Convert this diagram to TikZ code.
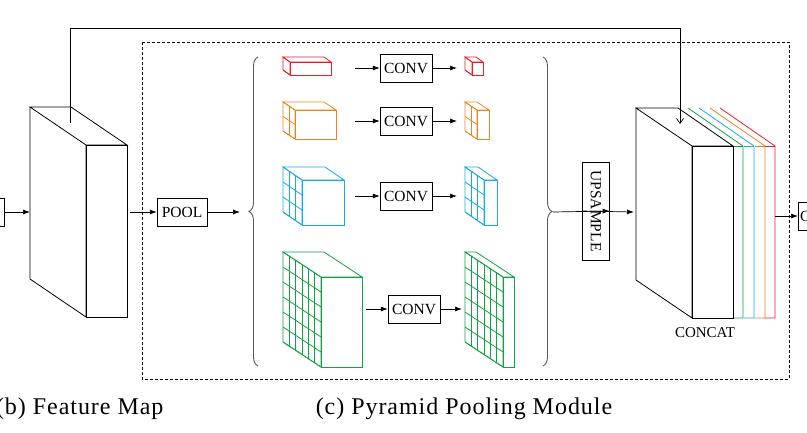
\documentclass[tikz,border=0pt]{standalone}
\usepackage{fontspec}
\setmainfont{Liberation Serif}
\usetikzlibrary{arrows.meta,decorations.pathreplacing}
\definecolor{cred}{RGB}{230,30,40}
\definecolor{corange}{RGB}{240,130,30}
\definecolor{cblue}{RGB}{20,170,230}
\definecolor{cgreen}{RGB}{20,160,70}
\tikzset{
  box/.style={draw, inner sep=2pt, minimum width=52pt, minimum height=28pt, font=\fontsize{15.5}{17}\selectfont},
  arr/.style={-{Latex[length=7pt,width=5pt]}, line width=0.7pt},
  brc/.style={draw=gray!70!black, line width=0.9pt, decorate, decoration={brace, amplitude=9pt, aspect=0.5}},
}
% cuboid: #1 colour, #2,#3 back top corner, #4,#5 depth offset, #6 height, #7 front width, #8 grid
\newcommand{\cuboid}[8]{%
  \begin{scope}[draw=#1, line width=0.8pt]
  \draw (#2,#3) -- ++(#4,#5) -- ++(#7,0) -- ++(-#4,-#5) -- cycle;
  \draw (#2,#3) -- ++(0,#6) -- ++(#4,#5) -- ++(0,-#6) -- cycle;
  \draw (#2+#4,#3+#5) rectangle ++(#7,#6);
  \foreach \i in {1,...,#8} {
    \draw (#2+\i*#4/#8,#3+\i*#5/#8) -- ++(0,#6);
    \draw (#2,#3+\i*#6/#8) -- ++(#4,#5);
  }
  \end{scope}}
\begin{document}
\begin{tikzpicture}[x=1pt,y=-1pt]
\useasboundingbox (0,0) rectangle (807,432);
\clip (0,0) rectangle (807,432);
% module frame
\draw[densely dashed, line width=0.6pt] (142,42) rectangle (789,379);
% feature map
\draw[line width=0.8pt] (30,107) -- (86,145) -- (127,145) -- (71,107) -- cycle;
\draw[line width=0.8pt] (30,107) -- (30,279) -- (86,317) -- (86,145);
\draw[line width=0.8pt] (86,145) rectangle (127,317);
\coordinate (fmin) at (30,212);
\coordinate (fmout) at (130,212);
\coordinate (fmtop) at (70,123);
\node[box, anchor=east, minimum width=20pt] (prev) at (4,212) {};
\draw[arr] (prev.east) -- (fmin);
% pool
\node[box, minimum width=50pt] (pool) at (182,212) {POOL};
\draw[arr] (fmout) -- (pool.west);
\coordinate (lb) at (240,212);
\draw[arr] (pool.east) -- (lb);
% braces
\draw[brc] (258,366) -- (258,57);
\draw[brc] (543,57) -- (543,366);
\coordinate (rb) at (553,212);
% cubes
\cuboid{cred}{283}{57}{7}{5}{13}{41}{1}
\cuboid{cred}{465}{57}{7}{5}{13}{11}{1}
\cuboid{corange}{283}{102}{12}{8}{29}{41}{2}
\cuboid{corange}{465}{102}{12}{8}{29}{12}{2}
\cuboid{cblue}{283}{167}{19}{13}{45}{42}{3}
\cuboid{cblue}{465}{167}{19}{13}{45}{13}{3}
\cuboid{cgreen}{283}{252}{38}{25}{90}{41}{6}
\cuboid{cgreen}{465}{252}{38}{25}{90}{11}{6}
% convs
\node[box] (c1) at (406,68) {CONV};
\node[box] (c2) at (406,121) {CONV};
\node[box] (c3) at (406,196) {CONV};
\node[box] (c4) at (414,309) {CONV};
\coordinate (i1) at (355,68);  \coordinate (o1) at (457,68);
\coordinate (i2) at (355,121); \coordinate (o2) at (457,121);
\coordinate (i3) at (355,196); \coordinate (o3) at (457,196);
\coordinate (i4) at (366,309); \coordinate (o4) at (462,309);
\foreach \k in {1,2,3,4} {
  \draw[arr] (i\k) -- (c\k.west);
  \draw[arr] (c\k.east) -- (o\k);
}
% upsample
\node[box, rotate=-90, minimum width=98pt, minimum height=27pt] (up) at (596,211) {UPSAMPLE};
\draw[arr] (rb) -- (up.north);
\coordinate (cin) at (634,212);
\draw[arr] (up.south) -- (cin);
% concat slabs
\foreach \c/\o in {cred/42, corange/32, cblue/21, cgreen/10} {
  \draw[\c, line width=0.8pt] (678+\o,108) -- (733+\o,146) -- (733+\o,318) -- (723+\o,318);
  \draw[\c, line width=0.8pt] (723+\o,146) -- (733+\o,146);
}
\draw[line width=0.8pt] (636,108) -- (692,146) -- (733,146) -- (678,108) -- cycle;
\draw[line width=0.8pt] (636,108) -- (636,280) -- (692,318) -- (692,146);
\draw[line width=0.8pt] (692,146) rectangle (733,318);
\node[font=\fontsize{15}{17}\selectfont] (cc) at (705,333) {CONCAT};
\coordinate (cout) at (775,216);
\node[box, anchor=west, minimum width=30pt, align=left] (next) at (798,216) {C\hphantom{ONV}};
\draw[arr] (cout) -- (next.west);
% skip connection
\coordinate (sk1) at (70,28);
\coordinate (sk2) at (680,28);
\coordinate (skend) at (680,124);
\draw[line width=0.7pt] (fmtop) -- (sk1) -- (sk2);
\draw[-{Straight Barb[length=5pt,width=7pt]}, line width=0.7pt] (sk2) -- (skend);
% captions
\node[anchor=base east, font=\fontsize{24}{28}\selectfont\addfontfeature{LetterSpace=4}] (capb) at (167,414) {(b) Feature Map};
\node[anchor=base, font=\fontsize{24}{28}\selectfont\addfontfeature{LetterSpace=4}] (capc) at (464,414) {(c) Pyramid Pooling Module};
\end{tikzpicture}
\end{document}
